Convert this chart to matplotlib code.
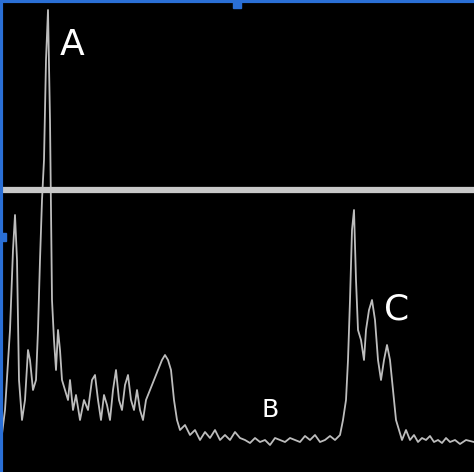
import matplotlib
matplotlib.use("Agg")
import matplotlib.pyplot as plt

xs = [0,5,10,13,15,17,19,22,25,28,30,33,36,38,40,42,44,46,48,50,52,54,56,58,60,62,65,68,70,73,76,80,84,88,92,95,98,101,104,107,110,113,116,119,122,125,128,131,134,137,140,143,146,150,154,158,162,165,168,171,174,177,180,185,190,195,200,205,210,215,220,225,230,235,240,245,250,255,260,265,270,275,280,285,290,295,300,305,310,315,320,325,330,335,340,343,346,348,350,352,354,356,358,361,364,366,369,372,375,378,381,384,387,390,393,396,399,402,406,410,414,418,422,426,430,434,438,442,446,450,455,460,466,474]
ys = [450,410,330,250,215,260,380,420,400,350,360,390,380,330,260,200,160,60,10,120,300,340,370,330,350,380,390,400,380,410,395,420,400,410,380,375,400,420,395,405,420,390,370,400,410,385,375,400,410,390,410,420,400,390,380,370,360,355,360,370,400,420,430,425,435,430,440,432,438,430,440,435,440,432,438,440,443,438,442,440,445,438,440,442,438,440,442,436,440,435,442,440,436,440,435,420,400,360,300,230,210,280,330,340,360,330,310,300,320,360,380,360,345,360,390,420,430,440,430,440,435,442,438,440,436,442,440,443,438,442,440,444,440,442]
labels = ["A", "B", "C"]
label_x = [72, 270, 397]
label_y = [45, 410, 310]
label_size = [26, 18, 26]

fig = plt.figure(figsize=(4.74, 4.72), dpi=100, facecolor="black")
ax = fig.add_axes([0, 0, 1, 1])
ax.set_facecolor("black")
ax.set_xlim(0, 474); ax.set_ylim(472, 0); ax.axis("off")
ax.plot(xs, ys, color="#bdbdbd", lw=1.3)
ax.axhline(190, color="#c8c8c8", lw=4.5)
for t, x, y, s in zip(labels, label_x, label_y, label_size):
    ax.text(x, y, t, color="white", fontsize=s, ha="center", va="center")
ax.plot([0, 474], [1, 1], color="#2a6fd6", lw=3)
ax.plot([1, 1], [0, 472], color="#2a6fd6", lw=3)
ax.plot([237], [4], marker="s", color="#2a6fd6", ms=6)
ax.plot([2], [237], marker="s", color="#2a6fd6", ms=6)
fig.savefig("out.png", dpi=100, facecolor="black")
